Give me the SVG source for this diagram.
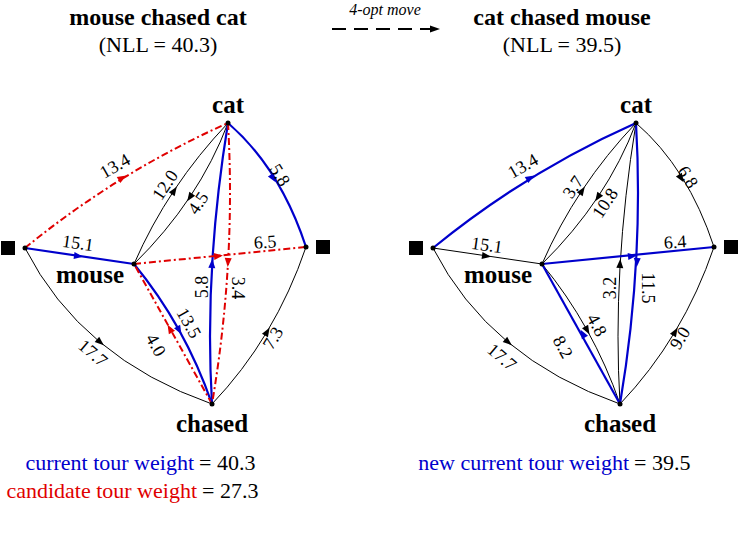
<svg xmlns="http://www.w3.org/2000/svg" width="753" height="533" viewBox="0 0 753 533">
<style>
text{font-family:"Liberation Serif","Times New Roman","DejaVu Serif",serif;fill:#000}
.t{font-weight:bold;font-size:24px}
.n{font-weight:bold;font-size:25px}
.l{font-size:18px}
.w{font-size:22px}
.k{fill:none;stroke:#000;stroke-width:1}
.b{fill:none;stroke:#0000cc;stroke-width:2.2}
.r{fill:none;stroke:#e00000;stroke-width:2;stroke-dasharray:7 3 2 3}
.ak{fill:#000}.ab{fill:#0000cc}.ar{fill:#e00000}
</style>
<defs><path id="ah" d="M5,0 L-4,-3.5 L-4,3.5 Z"/></defs>
<g id="titles">
<text class="t" x="158" y="25" text-anchor="middle">mouse chased cat</text>
<text x="158" y="52" text-anchor="middle" style="font-size:22px">(NLL = 40.3)</text>
<text class="t" x="562" y="25" text-anchor="middle">cat chased mouse</text>
<text x="562" y="52" text-anchor="middle" style="font-size:22px">(NLL = 39.5)</text>
<text x="385" y="15" text-anchor="middle" style="font-size:16px;font-style:italic">4-opt move</text>
<line x1="332" y1="29" x2="432" y2="29" stroke="#000" stroke-width="2" stroke-dasharray="14 8"/>
<path d="M440,29 L430,25.5 L430,32.5 Z"/>
</g>
<g id="connectors">
<g id="left-edges">
<path class="b" d="M25,248 L134,264"/><use href="#ah" class="ab" transform="translate(78,256) rotate(8)"/>
<path class="r" d="M25,248 Q118,172 228,123"/><use href="#ah" class="ar" transform="translate(122,178) rotate(-31)"/>
<path class="k" d="M134,264 Q168,186 228,123"/><use href="#ah" class="ak" transform="translate(174,191) rotate(-56)"/>
<path class="k" d="M228,123 Q199,200 134,264"/><use href="#ah" class="ak" transform="translate(190,197) rotate(124)"/>
<path class="b" d="M228,123 Q280,168 306,247"/><use href="#ah" class="ab" transform="translate(273,178) rotate(58)"/>
<path class="k" d="M25,248 Q81,358 212,404"/><use href="#ah" class="ak" transform="translate(100,342) rotate(40)"/>
<path class="b" d="M134,264 Q185,326 212,404"/><use href="#ah" class="ab" transform="translate(179,330) rotate(61)"/>
<path class="r" d="M212,404 L134,264"/><use href="#ah" class="ar" transform="translate(170,329) rotate(241)"/>
<path class="b" d="M212,404 Q204,270 228,123"/><use href="#ah" class="ab" transform="translate(212,264) rotate(-87)"/>
<path class="r" d="M228,123 Q236,262 212,404"/><use href="#ah" class="ar" transform="translate(228,262) rotate(93)"/>
<path class="r" d="M134,264 L306,247"/><use href="#ah" class="ar" transform="translate(218,256) rotate(-6)"/>
<path class="k" d="M212,404 Q275,338 306,247"/><use href="#ah" class="ak" transform="translate(267,332) rotate(-59)"/>
</g>
<g id="right-edges" transform="translate(408,0)">
<path class="b" d="M25,248 Q118,172 228,123"/><use href="#ah" class="ab" transform="translate(122,178) rotate(-31)"/>
<path class="k" d="M25,248 L134,264"/><use href="#ah" class="ak" transform="translate(78,256) rotate(8)"/>
<path class="k" d="M134,264 Q168,186 228,123"/><use href="#ah" class="ak" transform="translate(174,191) rotate(-56)"/>
<path class="k" d="M228,123 Q199,200 134,264"/><use href="#ah" class="ak" transform="translate(190,197) rotate(124)"/>
<path class="k" d="M228,123 Q280,168 306,247"/><use href="#ah" class="ak" transform="translate(273,178) rotate(58)"/>
<path class="k" d="M25,248 Q81,358 212,404"/><use href="#ah" class="ak" transform="translate(100,342) rotate(40)"/>
<path class="k" d="M134,264 Q185,326 212,404"/><use href="#ah" class="ak" transform="translate(179,330) rotate(61)"/>
<path class="b" d="M212,404 L134,264"/><use href="#ah" class="ab" transform="translate(175,334) rotate(241)"/>
<path class="k" d="M212,404 Q204,270 228,123"/><use href="#ah" class="ak" transform="translate(212,264) rotate(-87)"/>
<path class="b" d="M228,123 Q236,262 212,404"/><use href="#ah" class="ab" transform="translate(229,262) rotate(93)"/>
<path class="b" d="M134,264 L306,247"/><use href="#ah" class="ab" transform="translate(224,256) rotate(-6)"/>
<path class="k" d="M212,404 Q275,338 306,247"/><use href="#ah" class="ak" transform="translate(267,332) rotate(-59)"/>
</g>
</g>
<g id="edge-labels">
<text class="l" x="78" y="249" text-anchor="middle" transform="rotate(8 78 243)">15.1</text>
<text class="l" x="115" y="172" text-anchor="middle" transform="rotate(-30 115 166)">13.4</text>
<text class="l" x="165" y="191" text-anchor="middle" transform="rotate(-56 165 185)">12.0</text>
<text class="l" x="198" y="209" text-anchor="middle" transform="rotate(-56 198 203)">4.5</text>
<text class="l" x="280" y="181" text-anchor="middle" transform="rotate(58 280 175)">5.8</text>
<text class="l" x="265" y="248" text-anchor="middle" transform="rotate(-4 265 242)">6.5</text>
<text class="l" x="202" y="293" text-anchor="middle" transform="rotate(-90 202 287)">5.8</text>
<text class="l" x="238" y="294" text-anchor="middle" transform="rotate(90 238 288)">3.4</text>
<text class="l" x="189" y="329" text-anchor="middle" transform="rotate(61 189 323)">13.5</text>
<text class="l" x="156" y="351" text-anchor="middle" transform="rotate(61 156 345)">4.0</text>
<text class="l" x="93" y="359" text-anchor="middle" transform="rotate(40 93 353)">17.7</text>
<text class="l" x="273" y="344" text-anchor="middle" transform="rotate(-59 273 338)">7.3</text>
<text class="l" x="487" y="251" text-anchor="middle" transform="rotate(8 487 245)">15.1</text>
<text class="l" x="523" y="172" text-anchor="middle" transform="rotate(-30 523 166)">13.4</text>
<text class="l" x="573" y="193" text-anchor="middle" transform="rotate(-56 573 187)">3.7</text>
<text class="l" x="605" y="209" text-anchor="middle" transform="rotate(-56 605 203)">10.8</text>
<text class="l" x="688" y="183" text-anchor="middle" transform="rotate(58 688 177)">6.8</text>
<text class="l" x="675" y="248" text-anchor="middle" transform="rotate(-4 675 242)">6.4</text>
<text class="l" x="610" y="294" text-anchor="middle" transform="rotate(-90 610 288)">3.2</text>
<text class="l" x="648" y="294" text-anchor="middle" transform="rotate(90 648 288)">11.5</text>
<text class="l" x="597" y="331" text-anchor="middle" transform="rotate(61 597 325)">4.8</text>
<text class="l" x="563" y="353" text-anchor="middle" transform="rotate(61 563 347)">8.2</text>
<text class="l" x="502" y="363" text-anchor="middle" transform="rotate(40 502 357)">17.7</text>
<text class="l" x="680" y="344" text-anchor="middle" transform="rotate(-59 680 338)">9.0</text>
</g>
<g id="node-start-left"><rect x="1" y="241" width="14" height="14"/><circle cx="25" cy="248" r="2.5"/></g>
<g id="node-end-left"><rect x="316" y="240" width="14" height="14"/><circle cx="306" cy="247" r="2.5"/></g>
<g id="node-cat-left"><circle cx="228" cy="123" r="2.5"/><text class="n" x="228" y="113" text-anchor="middle">cat</text></g>
<g id="node-mouse-left"><circle cx="134" cy="264" r="2.5"/><text class="n" x="90" y="283" text-anchor="middle">mouse</text></g>
<g id="node-chased-left"><circle cx="212" cy="404" r="2.5"/><text class="n" x="212" y="432" text-anchor="middle">chased</text></g>
<g id="node-start-right"><rect x="409" y="241" width="14" height="14"/><circle cx="433" cy="248" r="2.5"/></g>
<g id="node-end-right"><rect x="724" y="240" width="14" height="14"/><circle cx="714" cy="247" r="2.5"/></g>
<g id="node-cat-right"><circle cx="636" cy="123" r="2.5"/><text class="n" x="636" y="113" text-anchor="middle">cat</text></g>
<g id="node-mouse-right"><circle cx="542" cy="264" r="2.5"/><text class="n" x="498" y="283" text-anchor="middle">mouse</text></g>
<g id="node-chased-right"><circle cx="620" cy="404" r="2.5"/><text class="n" x="620" y="432" text-anchor="middle">chased</text></g>
<g id="weights">
<text class="w" x="194" y="470" text-anchor="end" style="fill:#0000cc">current tour weight</text><text class="w" x="199" y="470">= 40.3</text>
<text class="w" x="197" y="498" text-anchor="end" style="fill:#e00000">candidate tour weight</text><text class="w" x="202" y="498">= 27.3</text>
<text class="w" x="629" y="470" text-anchor="end" style="fill:#0000cc">new current tour weight</text><text class="w" x="634" y="470">= 39.5</text>
</g>
</svg>
